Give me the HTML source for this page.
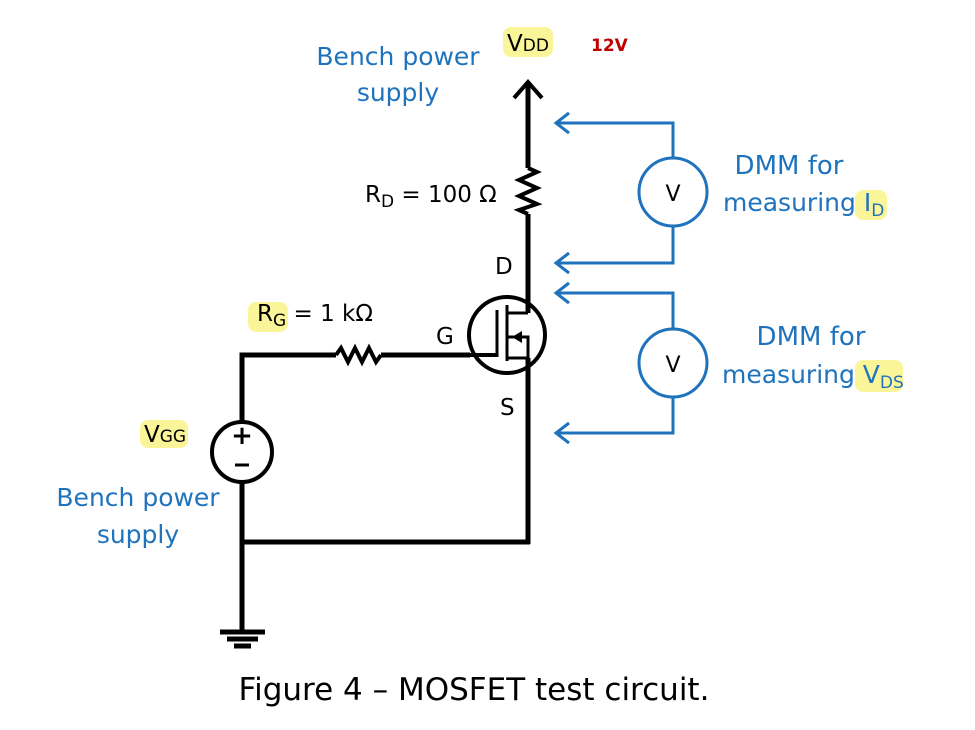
<!DOCTYPE html>
<html><head><style>
html,body{margin:0;padding:0;background:#fff;}
svg{display:block;}
text{font-family:"DejaVu Sans","Liberation Sans",sans-serif;}
</style></head><body>
<svg width="975" height="730" viewBox="0 0 975 730" xmlns="http://www.w3.org/2000/svg">
<rect x="503" y="27" width="50" height="30" rx="8" fill="#fbf59a"/>
<rect x="248" y="302" width="40" height="30" rx="8" fill="#fbf59a"/>
<rect x="140" y="420" width="48" height="28" rx="8" fill="#fbf59a"/>
<rect x="855" y="190" width="32" height="30" rx="8" fill="#fbf59a"/>
<rect x="855" y="360" width="48" height="32" rx="8" fill="#fbf59a"/>

<g stroke="#000" stroke-width="5" fill="none" stroke-linecap="butt">
  <line x1="528" y1="82" x2="528" y2="168"/>
  <polyline stroke-width="4" points="528,168 537,172 519,180 537,188 519,196 537,204 519,210 528,214"/>
  <line x1="528" y1="214" x2="528" y2="313"/>
  <polyline stroke-width="4" points="514,98 528,82 542,98"/>
  <line x1="528" y1="358" x2="528" y2="544"/>
  <line x1="240" y1="542" x2="530" y2="542"/>
  <polyline points="242,422 242,355 336,355"/>
  <polyline stroke-width="4" points="336,355 341,348 348,362 355,348 362,362 369,348 376,362 381,355"/>
  <line x1="381" y1="355" x2="470" y2="355"/>
  <line x1="242" y1="482" x2="242" y2="632"/>
  <line x1="220" y1="632" x2="265" y2="632"/>
  <line x1="227" y1="639" x2="258" y2="639"/>
  <line x1="234" y1="646" x2="251" y2="646"/>
</g>
<circle cx="242" cy="452" r="30" stroke="#000" stroke-width="4" fill="none"/>
<text x="242" y="444" font-size="26" text-anchor="middle" font-weight="bold">+</text>
<line x1="235" y1="465" x2="249" y2="465" stroke="#000" stroke-width="3"/>
<g stroke="#000" fill="none">
  <circle cx="507" cy="335" r="38" stroke-width="4"/>
  <line x1="470" y1="355" x2="498" y2="355" stroke-width="4"/>
  <line x1="497" y1="310" x2="497" y2="357" stroke-width="3"/>
  <line x1="507" y1="305" x2="507" y2="361" stroke-width="3"/>
  <polyline points="507,313 528,313" stroke-width="3"/>
  <polyline points="507,337 528,337 528,358" stroke-width="3"/>
  <polyline points="507,358 528,358" stroke-width="3"/>
</g>
<polygon points="512,337 522,331 522,343" fill="#000"/>

<g stroke="#1f73bd" stroke-width="3" fill="none">
  <polyline points="556,123 673,123 673,158"/>
  <polyline points="569,113 556,123 569,133"/>
  <circle cx="673" cy="192" r="34"/>
  <polyline points="673,226 673,263 556,263"/>
  <polyline points="569,253 556,263 569,273"/>
  <polyline points="556,293 673,293 673,329"/>
  <polyline points="569,283 556,293 569,303"/>
  <circle cx="673" cy="363" r="34"/>
  <polyline points="673,397 673,433 556,433"/>
  <polyline points="569,423 556,433 569,443"/>
</g>
<text x="673" y="201" font-size="22" text-anchor="middle">V</text>
<text x="673" y="372" font-size="22" text-anchor="middle">V</text>

<g fill="#1f73bd" font-size="25">
  <text x="398" y="65" text-anchor="middle">Bench power</text>
  <text x="398" y="101" text-anchor="middle">supply</text>
  <text x="138" y="506" text-anchor="middle">Bench power</text>
  <text x="138" y="543" text-anchor="middle">supply</text>
  <text x="789" y="174" text-anchor="middle" font-size="26">DMM  for</text>
  <text x="723" y="211">measuring <tspan>I</tspan><tspan font-size="17" dy="5">D</tspan></text>
  <text x="811" y="345" text-anchor="middle" font-size="26">DMM  for</text>
  <text x="722" y="383">measuring V<tspan font-size="17" dy="5">DS</tspan></text>
</g>
<g fill="#000" font-size="23">
  <text x="507" y="51">V<tspan font-size="17">DD</tspan></text>
  <text x="144" y="442">V<tspan font-size="17">GG</tspan></text>
  <text x="365" y="202">R<tspan font-size="17" dy="5">D</tspan><tspan dy="-5"> = 100 Ω</tspan></text>
  <text x="257" y="321">R<tspan font-size="17" dy="5">G</tspan><tspan dy="-5"> = 1 kΩ</tspan></text>
  <text x="495" y="274">D</text>
  <text x="436" y="344">G</text>
  <text x="500" y="415">S</text>
</g>
<text x="591" y="51" font-size="17" font-weight="bold" fill="#c00000" font-family="Liberation Sans">12V</text>
<text x="474" y="700" font-size="31" text-anchor="middle" font-family="Liberation Sans" fill="#000">Figure 4 – MOSFET test circuit.</text>
</svg>
</body></html>
